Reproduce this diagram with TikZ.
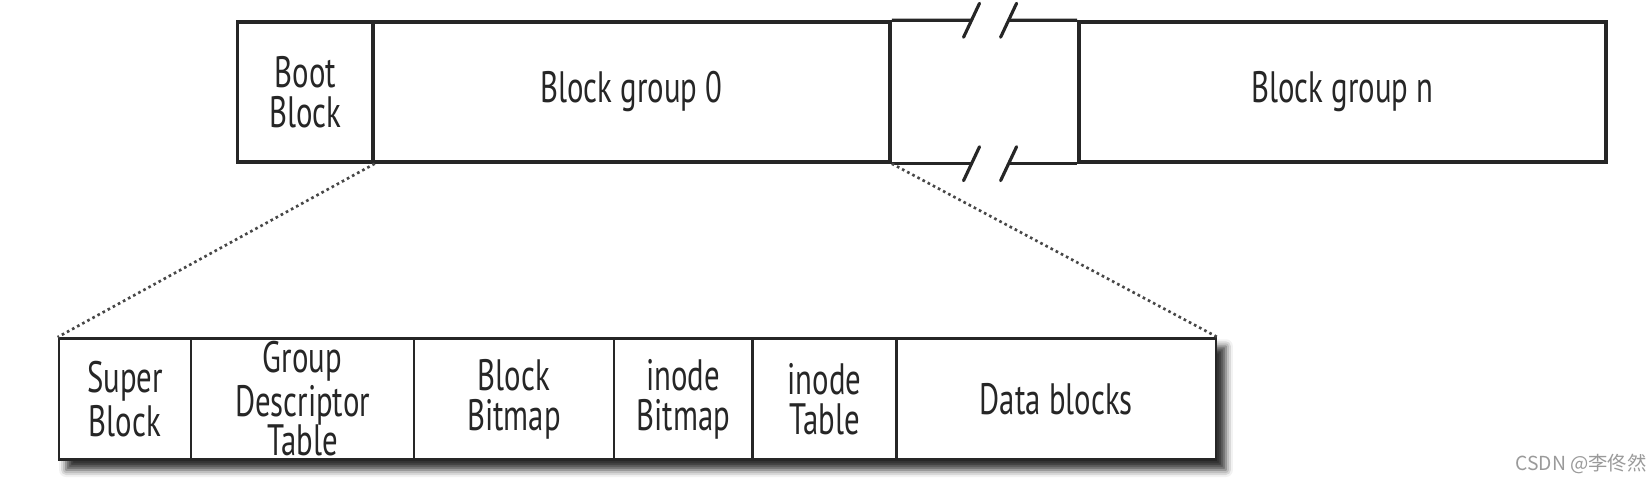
\documentclass[tikz,border=0pt]{standalone}
\usepackage{fontspec}
\setmainfont{PT Sans}[FakeStretch=0.7]
\newfontfamily\cjkfont{Noto Sans CJK SC}
\usetikzlibrary{positioning,calc,fit,backgrounds,shadows.blur}
\definecolor{ink}{HTML}{262626}
\definecolor{mark}{HTML}{9A9A9A}
\tikzset{
  every node/.style={font=\fontsize{12.5}{11.3}\selectfont,text=ink},
  cell/.style={draw=ink,line width=0.95pt,fill=white,minimum height=14mm,inner sep=0pt,align=center},
  subcell/.style={cell,line width=0.75pt,minimum height=12.1mm},
  rim/.style={draw=ink,line width=0.95pt},
  cut/.style={draw=ink,line width=0.9pt,line cap=round},
  zoomline/.style={draw=ink!85,line width=0.75pt,dash pattern=on 0.75pt off 0.9pt},
  rowshadow/.style={fill=white,inner sep=0pt,blur shadow={shadow xshift=2.4pt,shadow yshift=-2.6pt,shadow blur radius=2pt,shadow opacity=80}},
}

\begin{document}
\begin{tikzpicture}[x=0.01cm,y=-0.01cm]
  \useasboundingbox (0,0) rectangle (1648,483);
  \node[cell,minimum width=13.55mm] (boot) at (305.25,92) {Boot\\Block};
  \node[cell,minimum width=51.7mm] (bg0) at (631.5,92) {Block group 0};
  \node[cell,minimum width=52.7mm] (bgn) at (1342.5,92) {Block group n};
  \coordinate (cutA) at ($(bg0.north east)!0.43!(bgn.north west)$);
  \coordinate (cutB) at ($(bg0.north east)!0.63!(bgn.north west)$);
  \coordinate (cutC) at ($(bg0.south east)!0.43!(bgn.south west)$);
  \coordinate (cutD) at ($(bg0.south east)!0.63!(bgn.south west)$);
  \draw[rim] (bg0.north east) -- (cutA);
  \draw[rim] (cutB) -- (bgn.north west);
  \draw[rim] (bg0.south east) -- (cutC);
  \draw[rim] (cutD) -- (bgn.south west);
  \draw[cut] (cutA) +(8,-17) -- +(-8,17);
  \draw[cut] (cutB) +(8,-17) -- +(-8,17);
  \draw[cut] (cutC) +(8,-17) -- +(-8,17);
  \draw[cut] (cutD) +(8,-17) -- +(-8,17);
  \node[subcell,minimum width=13.2mm] (super) at (125,399) {Super\\Block};
  \node[subcell,minimum width=22.3mm] (gdt) at (302.5,399) {Group\\Descriptor\\Table};
  \node[subcell,minimum width=20mm] (bbmp) at (514,399) {Block\\Bitmap};
  \node[subcell,minimum width=13.85mm] (ibmp) at (683.25,399) {inode\\Bitmap};
  \node[subcell,minimum width=14.4mm] (itab) at (824.5,399) {inode\\Table};
  \node[subcell,minimum width=31.95mm] (data) at (1056.25,399) {Data blocks};
  \begin{scope}[on background layer]
    \node[rowshadow,fit=(super)(data)] (row) {};
  \end{scope}
  \draw[zoomline] (boot.south east) -- (super.north west);
  \draw[zoomline] (bg0.south east) -- (data.north east);
  \node[font=\cjkfont\fontsize{5.5}{6}\selectfont,text=mark] (credit) at (1581,464) {CSDN @李佟然};
\end{tikzpicture}
\end{document}
